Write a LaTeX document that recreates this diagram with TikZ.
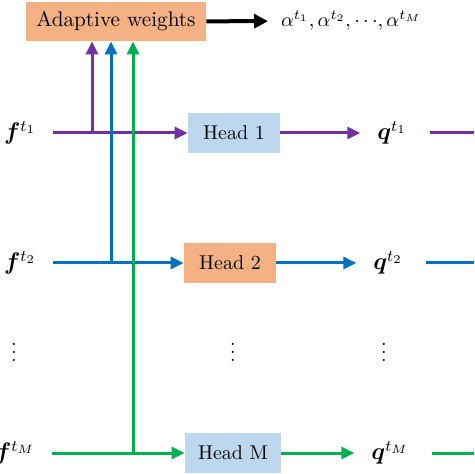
\documentclass[tikz,border=0pt]{standalone}
\usepackage{amsmath,amssymb}
\usepackage{bm}
\usetikzlibrary{arrows.meta, positioning}
\definecolor{purp}{RGB}{112,48,160}
\definecolor{blu}{RGB}{0,112,192}
\definecolor{grn}{RGB}{0,176,80}
\definecolor{orng}{RGB}{244,177,131}
\definecolor{lblue}{RGB}{189,215,238}
\begin{document}
\begin{tikzpicture}[x=0.5pt, y=-0.5pt,
		flow/.style={line width=1.5pt, -{Triangle[length=6.5pt, width=6pt]}},
		plain/.style={line width=1.5pt},
		headbox/.style={minimum width=46pt, minimum height=20pt, inner sep=0pt},
		lab/.style={font=\large}]
	\useasboundingbox (0,0) rectangle (474,474);

	%weights
	\node[fill=orng, minimum width=90pt, minimum height=19.5pt, inner sep=0pt, font=\fontsize{10.6}{12}\selectfont] (aw) at (116,21.5) {Adaptive weights};
	\node[anchor=west, font=\fontsize{10.2}{12}\selectfont] (alpha) at (274,21) {$\alpha^{t_1}{,}\,\alpha^{t_2}{,}\,{\cdots}{,}\,\alpha^{t_M}$};
	\draw[line width=2pt, -{Triangle[length=7pt, width=7pt]}, shorten >=3pt] (aw) -- (alpha);

	%heads
	\node[headbox, fill=lblue] (h1) at (234,133) {Head 1};
	\node[headbox, fill=orng] (h2) at (230,263) {Head 2};
	\node[headbox, fill=lblue, minimum width=48pt] (hM) at (233,453) {Head M};

	%inputs and outputs
	\node[lab] (f1) at (20,133) {$\boldsymbol{f}^{t_1}$};
	\node[lab] (f2) at (20,263) {$\boldsymbol{f}^{t_2}$};
	\node[lab] (fM) at (15,453) {$\boldsymbol{f}^{t_M}$};
	\node[lab] (q1) at (392,133) {$\boldsymbol{q}^{t_1}$};
	\node[lab] (q2) at (388,263) {$\boldsymbol{q}^{t_2}$};
	\node[lab] (qM) at (390,453) {$\boldsymbol{q}^{t_M}$};
	\coordinate (e1) at (474,133);
	\coordinate (e2) at (474,263);
	\coordinate (eM) at (474,453);

	%dots
	\node (d1) at (14,346) {$\vdots$};
	\node (d2) at (233,346) {$\vdots$};
	\node (d3) at (384,346) {$\vdots$};

	%branch points
	\coordinate (b1) at (92,133);
	\coordinate (b2) at (111,263);
	\coordinate (bM) at (133,453);

	\foreach \r/\c in {1/purp, 2/blu, M/grn} {
		\draw[flow, \c, shorten <=5pt] (f\r) -- (h\r);
		\draw[flow, \c, shorten >=5pt] (h\r) -- (q\r);
		\draw[plain, \c, shorten <=8pt] (q\r) -- (e\r);
		\draw[flow, \c] (b\r) -- (b\r |- aw.south);
	}
\end{tikzpicture}
\end{document}
